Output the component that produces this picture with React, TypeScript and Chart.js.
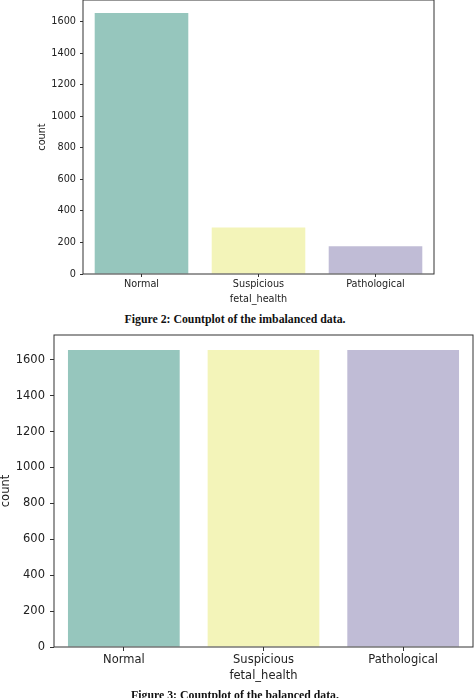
import React, { useEffect, useRef } from "react";
import { Chart, registerables } from "chart.js";

Chart.register(...registerables);

const categories = ["Normal", "Suspicious", "Pathological"];
const imbalancedCounts = [1655, 295, 176];
const balancedCounts = [1655, 1655, 1655];
const barColors = ["#96c6bd", "#f3f4b9", "#c0bcd6"];
const yTicks = [0, 200, 400, 600, 800, 1000, 1200, 1400, 1600];
const yMax = 1738;
const xTitle = "fetal_health";
const yTitle = "count";

const FONT = "'DejaVu Sans', sans-serif";
const INK = "#222";

// matplotlib-like full box around the plot area
const framePlugin = {
  id: "frame",
  afterDraw(chart: any) {
    const { ctx, chartArea: a } = chart;
    ctx.save();
    ctx.strokeStyle = "#333";
    ctx.lineWidth = 1;
    ctx.strokeRect(a.left, a.top, a.right - a.left, a.bottom - a.top);
    ctx.restore();
  },
};

type Area = { left: number; top: number; right: number; bottom: number };

type PlotProps = {
  width: number;
  height: number;
  values: number[];
  area: Area;
  fontSize: number;
  tickLen: number;
  yLabelPad: number;
  xLabelPad: number;
  yTitleX: number;
  xTitleY: number;
};

function CountPlot(p: PlotProps) {
  const canvasRef = useRef<HTMLCanvasElement>(null);
  const chartRef = useRef<Chart | null>(null);

  useEffect(() => {
    if (!canvasRef.current) return;
    const lh = p.fontSize;
    chartRef.current = new Chart(canvasRef.current, {
      type: "bar",
      data: {
        labels: categories,
        datasets: [
          {
            data: p.values,
            backgroundColor: barColors,
            borderWidth: 0,
            barPercentage: 0.8,
            categoryPercentage: 1,
          },
        ],
      },
      options: {
        responsive: false,
        animation: false,
        events: [],
        layout: {
          padding: { left: 0, top: p.area.top, right: p.width - p.area.right, bottom: 0 },
        },
        plugins: { legend: { display: false }, tooltip: { enabled: false } },
        scales: {
          x: {
            grid: {
              offset: false,
              drawOnChartArea: false,
              drawTicks: true,
              tickLength: p.tickLen,
              color: "#333",
              lineWidth: 1,
            },
            border: { display: false },
            ticks: {
              color: INK,
              font: { family: FONT, size: p.fontSize },
              padding: p.xLabelPad,
              maxRotation: 0,
            },
            title: {
              display: true,
              text: xTitle,
              color: INK,
              font: { family: FONT, size: p.fontSize, lineHeight: 1 },
              padding: { top: 0, bottom: Math.max(0, p.height - p.xTitleY - lh / 2) },
            },
            afterFit: (s: any) => {
              s.height = p.height - p.area.bottom;
              s.paddingLeft = 0;
              s.paddingRight = 0;
            },
          },
          y: {
            min: 0,
            max: yMax,
            grid: {
              drawOnChartArea: false,
              drawTicks: true,
              tickLength: p.tickLen,
              color: "#333",
              lineWidth: 1,
            },
            border: { display: false },
            ticks: {
              color: INK,
              font: { family: FONT, size: p.fontSize },
              padding: p.yLabelPad,
              includeBounds: false,
              callback: (v: any) => String(v),
            },
            afterBuildTicks: (s: any) => {
              s.ticks = yTicks.map((v) => ({ value: v }));
            },
            title: {
              display: true,
              text: yTitle,
              color: INK,
              font: { family: FONT, size: p.fontSize, lineHeight: 1 },
              padding: { top: Math.max(0, p.yTitleX - lh / 2), bottom: 0 },
            },
            afterFit: (s: any) => {
              s.width = p.area.left;
              s.paddingTop = 0;
              s.paddingBottom = 0;
            },
          },
        },
      },
      plugins: [framePlugin],
    });

    return () => {
      if (chartRef.current) {
        chartRef.current.destroy();
        chartRef.current = null;
      }
    };
  }, []);

  return <canvas ref={canvasRef} width={p.width} height={p.height} style={{ display: "block" }} />;
}

const captionStyle: React.CSSProperties = {
  position: "absolute",
  left: 0,
  width: 470,
  textAlign: "center",
  fontFamily: "'Liberation Serif', 'Times New Roman', serif",
  fontWeight: "bold",
  fontSize: 11.8,
  lineHeight: "14px",
  color: "#111",
  whiteSpace: "nowrap",
};

export default function App() {
  return (
    <div
      style={{
        position: "absolute",
        left: 0,
        top: 0,
        width: 474,
        height: 698,
        overflow: "hidden",
        background: "#fff",
      }}
    >
      <div style={{ position: "absolute", left: 0, top: 0 }}>
        <CountPlot
          width={474}
          height={308}
          values={imbalancedCounts}
          area={{ left: 83, top: 0, right: 434, bottom: 274 }}
          fontSize={9.7}
          tickLen={3}
          yLabelPad={4}
          xLabelPad={2}
          yTitleX={42}
          xTitleY={299}
        />
      </div>
      <div style={{ ...captionStyle, top: 312 }}>Figure 2: Countplot of the imbalanced data.</div>
      <div style={{ position: "absolute", left: 0, top: 330 }}>
        <CountPlot
          width={474}
          height={368}
          values={balancedCounts}
          area={{ left: 54, top: 5, right: 473, bottom: 317 }}
          fontSize={11.5}
          tickLen={4}
          yLabelPad={5}
          xLabelPad={2}
          yTitleX={5}
          xTitleY={346}
        />
      </div>
      <div style={{ ...captionStyle, top: 688 }}>Figure 3: Countplot of the balanced data.</div>
    </div>
  );
}
